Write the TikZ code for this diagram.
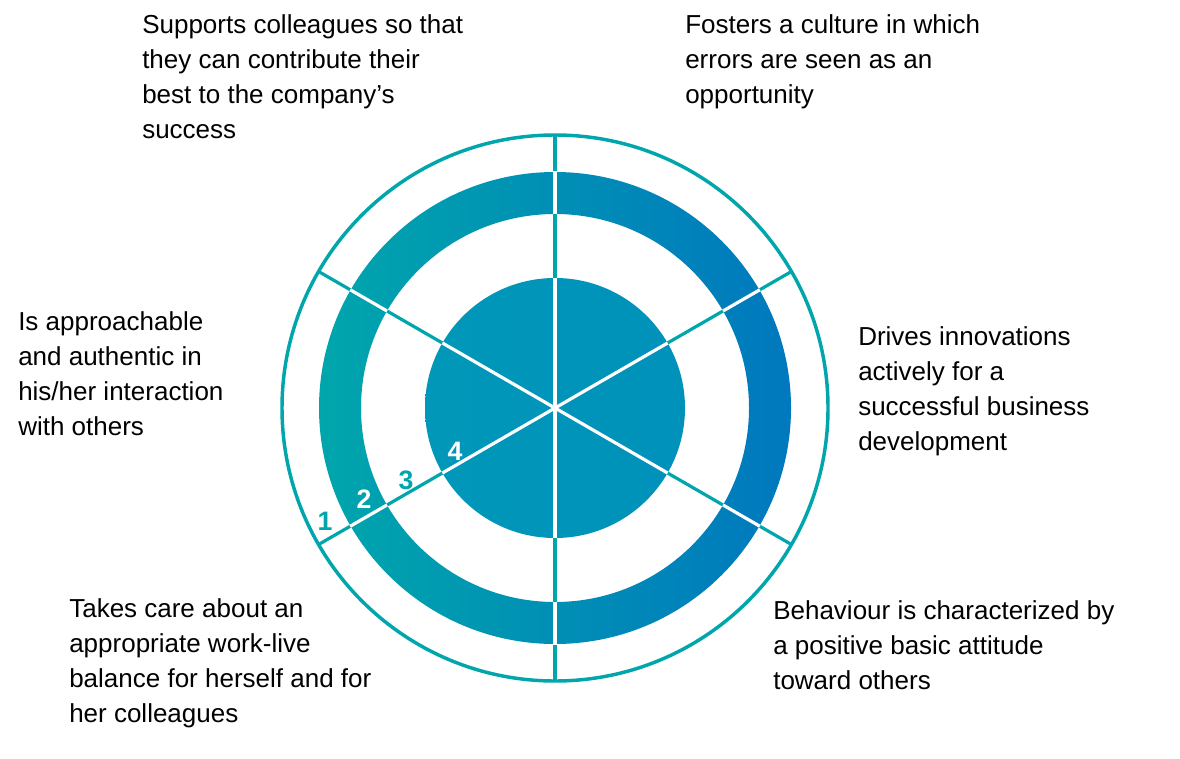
\documentclass[tikz,border=0pt]{standalone}
\usepackage{fontspec}
\setmainfont{Liberation Sans}
\usetikzlibrary{calc}
\begin{document}
\begin{tikzpicture}[x=0.75pt,y=-0.75pt]
\definecolor{tl}{RGB}{0,166,172}
\definecolor{bl}{RGB}{0,120,190}
\definecolor{md}{RGB}{0,150,186}
\tikzset{lbl/.style={anchor=north west,inner sep=0pt,align=left,font=\fontsize{19.5}{26.3}\selectfont},
num/.style={font=\bfseries\fontsize{20}{20}\selectfont,inner sep=0pt}}
\useasboundingbox (0,0) rectangle (1180,759);
\coordinate (c) at (555,408);
% filled ring
\shade[left color=tl,right color=bl,even odd rule] (c) circle[radius=236] (c) circle[radius=194];
\shade[left color=md!90!tl,right color=md!85!bl] (c) circle[radius=130];
\draw[tl,line width=2.6pt] (c) circle[radius=273];
\foreach \a in {30,90,150,210,270,330}{
  \draw[tl,line width=2.4pt] ($(c)+(\a:130)$) -- ($(c)+(\a:194)$);
  \draw[tl,line width=2.4pt] ($(c)+(\a:236)$) -- ($(c)+(\a:273)$);
  \draw[white,line width=2.4pt] (c) -- ($(c)+(\a:130)$);
  \draw[white,line width=2.4pt] ($(c)+(\a:194)$) -- ($(c)+(\a:236.5)$);
}
\node[num,text=tl] (n1) at (325,521) {1};
\node[num,text=white] (n2) at (364,499) {2};
\node[num,text=tl] (n3) at (406,480) {3};
\node[num,text=white] (n4) at (455,451) {4};
\node[lbl] (l1) at (142,14) {Supports colleagues so that\\they can contribute their\\best to the company's\\success};
\node[lbl] (l2) at (685,14) {Fosters a culture in which\\errors are seen as an\\opportunity};
\node[lbl] (l3) at (18,311) {Is approachable\\and authentic in\\his/her interaction\\with others};
\node[lbl] (l4) at (858,326) {Drives innovations\\actively for a\\successful business\\development};
\node[lbl] (l5) at (69,598) {Takes care about an\\appropriate work-live\\balance for herself and for\\her colleagues};
\node[lbl] (l6) at (773,600) {Behaviour is characterized by\\a positive basic attitude\\toward others};
\end{tikzpicture}
\end{document}
